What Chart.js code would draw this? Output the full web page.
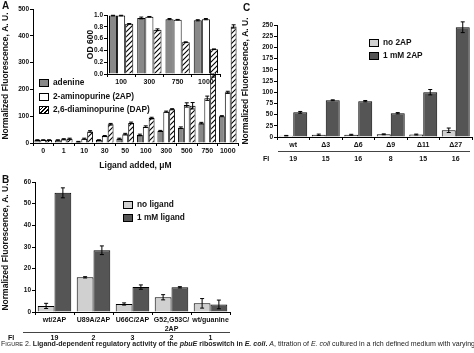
<!DOCTYPE html>
<html>
<head>
<meta charset="utf-8">
<script src="https://cdn.jsdelivr.net/npm/chart.js@4"></script>
<style>
body { margin: 0; background: #fff; width: 474px; height: 353px; overflow: hidden; position: relative;
       font-family: "Liberation Sans", Arial, sans-serif; color: #111; }
canvas { position: absolute; }
.t { position: absolute; font-weight: bold; white-space: nowrap; line-height: 1; }
.sw { position: absolute; width: 8px; height: 6px; border: 1px solid #000; }
.hline { position: absolute; height: 1px; background: #444; }
.cap { position: absolute; left: 1px; top: 340px; font-size: 7.05px; white-space: nowrap; color: #222; }
</style>
</head>
<body>
<canvas id="chartA" width="240" height="172" style="left:0;top:0"></canvas>
<canvas id="chartInset" width="137" height="76" style="top:8px;left:85px"></canvas>
<canvas id="chartB" width="240" height="160" style="left:0;top:175px"></canvas>
<canvas id="chartC" width="234" height="150" style="left:240px;top:10px"></canvas>

<div class="t" style="left:2px;top:1px;font-size:10px">A</div>
<div class="t" style="left:2px;top:175px;font-size:10px">B</div>
<div class="t" style="left:243px;top:3px;font-size:10px">C</div>

<!-- legends -->
<div class="sw" style="left:39px;top:79px;background:#888"></div>
<div class="t" style="left:53px;top:78px;font-size:8.3px">adenine</div>
<div class="sw" style="left:39px;top:93px;background:#fff"></div>
<div class="t" style="left:53px;top:92px;font-size:8.3px">2-aminopurine (2AP)</div>
<div class="sw" style="left:39px;top:106px;background:repeating-linear-gradient(135deg,#fff 0 1.6px,#000 1.6px 2.6px)"></div>
<div class="t" style="left:53px;top:105px;font-size:8.3px">2,6-diaminopurine (DAP)</div>

<div class="sw" style="left:123px;top:201px;background:#d0d0d0"></div>
<div class="t" style="left:137px;top:200px;font-size:8.3px">no ligand</div>
<div class="sw" style="left:123px;top:214px;background:#555"></div>
<div class="t" style="left:137px;top:213px;font-size:8.3px">1 mM ligand</div>

<div class="sw" style="left:369px;top:39px;background:#d0d0d0"></div>
<div class="t" style="left:383px;top:38px;font-size:8.3px">no 2AP</div>
<div class="sw" style="left:369px;top:52px;background:#555"></div>
<div class="t" style="left:383px;top:51px;font-size:8.3px">1 mM 2AP</div>

<div class="hline" style="left:23px;top:332px;width:207px"></div>
<div class="t" style="left:8px;top:334px;font-size:7px">FI</div>
<div class="hline" style="left:278px;top:151px;width:192px"></div>
<div class="t" style="left:263px;top:155px;font-size:7px">FI</div>
<div id="fiHolder"></div>

<div class="cap">F<span style="font-size:5.6px">IGURE</span> 2. <b>Ligand-dependent regulatory activity of the <i>pbuE</i> riboswitch in <i>E. coli</i>.</b> <i>A</i>, titration of <i>E. coli</i> cultured in a rich defined medium with varying</div>

<script>
// Panel A: fluorescence vs ligand concentration
const ligandConc = ['0', '1', '10', '30', '50', '100', '300', '500', '750', '1000'];
const adenine = [11, 10, 5, 11, 16, 30, 45, 57, 74, 100];
const adenineErr = [1, 2, 1, 1, 2, 3, 2, 3, 3, 2];
const aminopurine = [11, 14, 16, 26, 33, 61, 117, 142, 167, 189];
const aminopurineErr = [1, 2, 2, 2, 3, 3, 2, 8, 8, 4];
const diaminopurine = [11, 16, 43, 70, 75, 93, 126, 139, 264, 435];
const diaminopurineErr = [1, 2, 3, 3, 3, 3, 2, 12, 18, 6];

// Inset: OD 600
const insetConc = ['100', '300', '750', '1000'];
const odAdenine = [0.99, 0.95, 0.93, 0.91];
const odAdenineErr = [0.005, 0.015, 0.01, 0.01];
const odAminopurine = [0.99, 0.97, 0.92, 0.93];
const odAminopurineErr = [0.005, 0.005, 0.005, 0.01];
const odDiaminopurine = [0.85, 0.75, 0.54, 0.42];
const odDiaminopurineErr = [0.005, 0.015, 0.005, 0.005];

// Panel B: mutants
const mutants = ['wt/2AP', 'U89A/2AP', 'U66C/2AP', ['G52,G53C/', '2AP'], 'wt/guanine'];
const noLigand = [2.8, 16, 3.7, 6.8, 4];
const noLigandErr = [1.2, 0.3, 0.5, 1.2, 2.2];
const withLigand = [55, 28.5, 11.5, 11.4, 3.5];
const withLigandErr = [2.3, 2, 1, 0.3, 2];
const fiB = ['19', '2', '3', '2', '1'];

// Panel C: deletions
const deletions = ['wt', 'Δ3', 'Δ6', 'Δ9', 'Δ11', 'Δ27'];
const no2AP = [3, 5, 5, 6, 5.5, 15];
const no2APErr = [0.5, 1.5, 1, 1, 1, 5];
const with2AP = [55, 82, 80, 53, 100, 245];
const with2APErr = [2, 1, 1.5, 1.5, 6, 12];
const fiC = ['19', '15', '16', '8', '15', '16'];

// Hatch fill for DAP
function hatch() {
    const c = document.createElement('canvas');
    c.width = 5; c.height = 5;
    const g = c.getContext('2d');
    g.fillStyle = '#fff';
    g.fillRect(0, 0, 5, 5);
    g.strokeStyle = '#000';
    g.lineWidth = 1.1;
    g.beginPath();
    g.moveTo(0, 5); g.lineTo(5, 0);
    g.moveTo(-1, 1); g.lineTo(1, -1);
    g.moveTo(4, 6); g.lineTo(6, 4);
    g.stroke();
    return g.createPattern(c, 'repeat');
}

// Draw error bars from dataset.errors
const errorBars = {
    id: 'errorBars',
    afterDatasetsDraw(chart) {
        const ctx = chart.ctx;
        const y = chart.scales.y;
        chart.data.datasets.forEach((ds, i) => {
            if (!ds.errors) return;
            chart.getDatasetMeta(i).data.forEach((bar, j) => {
                const v = ds.data[j], e = ds.errors[j];
                const top = y.getPixelForValue(v + e);
                const bot = y.getPixelForValue(v - e);
                ctx.save();
                ctx.strokeStyle = '#000';
                ctx.lineWidth = 1;
                ctx.beginPath();
                ctx.moveTo(bar.x, top); ctx.lineTo(bar.x, bot);
                ctx.moveTo(bar.x - 2, top); ctx.lineTo(bar.x + 2, top);
                ctx.moveTo(bar.x - 2, bot); ctx.lineTo(bar.x + 2, bot);
                ctx.stroke();
                ctx.restore();
            });
        });
    }
};

function barSet(label, data, errors, color) {
    return {
        label: label,
        data: data,
        errors: errors,
        backgroundColor: color,
        borderColor: '#000',
        borderWidth: 1,
        categoryPercentage: 0.86,
        barPercentage: 1
    };
}

function options(o) {
    return {
        responsive: false,
        animation: false,
        events: [],
        layout: { padding: o.pad },
        plugins: { legend: { display: false }, tooltip: { enabled: false } },
        scales: {
            x: {
                grid: { drawOnChartArea: false, color: '#000', tickLength: 3 },
                border: { color: '#000', width: 1 },
                ticks: { color: '#111', font: { size: 7, weight: 'bold', family: 'Liberation Sans' }, padding: 1, maxRotation: 0, autoSkip: false },
                title: { display: !!o.xTitle, text: o.xTitle, color: '#111', font: { size: 8.5, weight: 'bold', family: 'Liberation Sans' }, padding: 1 },
                afterFit: s => { s.height = o.xHeight; }
            },
            y: {
                min: o.min, max: o.max,
                grid: { drawOnChartArea: false, color: '#000', tickLength: 3 },
                border: { color: '#000', width: 1 },
                ticks: {
                    stepSize: o.step, color: '#111', padding: 1,
                    font: { size: 6.5, weight: 'bold', family: 'Liberation Sans' },
                    callback: v => o.decimals ? v.toFixed(1) : v
                },
                title: { display: true, text: o.yTitle, color: '#111', font: { size: 8.5, weight: 'bold', family: 'Liberation Sans' }, padding: 1 },
                afterFit: s => { s.width = o.yWidth; }
            }
        }
    };
}

const yTitle = 'Normalized Fluorescence, A. U.';

const chartA = new Chart(document.getElementById('chartA'), {
    type: 'bar',
    data: {
        labels: ligandConc,
        datasets: [
            barSet('adenine', adenine, adenineErr, '#888'),
            barSet('2-aminopurine (2AP)', aminopurine, aminopurineErr, '#fff'),
            barSet('2,6-diaminopurine (DAP)', diaminopurine, diaminopurineErr, hatch())
        ]
    },
    options: options({ min: 0, max: 500, step: 100, yWidth: 33, xHeight: 29, pad: { top: 9, right: 2 }, yTitle: yTitle, xTitle: 'Ligand added, μM' }),
    plugins: [errorBars]
});

const chartInset = new Chart(document.getElementById('chartInset'), {
    type: 'bar',
    data: {
        labels: insetConc,
        datasets: [
            barSet('adenine', odAdenine, odAdenineErr, '#888'),
            barSet('2AP', odAminopurine, odAminopurineErr, '#fff'),
            barSet('DAP', odDiaminopurine, odDiaminopurineErr, hatch())
        ]
    },
    options: options({ min: 0, max: 1.0, step: 0.2, yWidth: 22, xHeight: 10, pad: { top: 7, right: 2 }, yTitle: 'OD 600', decimals: true }),
    plugins: [errorBars]
});

const chartB = new Chart(document.getElementById('chartB'), {
    type: 'bar',
    data: {
        labels: mutants,
        datasets: [
            barSet('no ligand', noLigand, noLigandErr, '#d0d0d0'),
            barSet('1 mM ligand', withLigand, withLigandErr, '#555')
        ]
    },
    options: options({ min: 0, max: 60, step: 10, yWidth: 35, xHeight: 23, pad: { top: 7, right: 10 }, yTitle: yTitle }),
    plugins: [errorBars]
});

const chartC = new Chart(document.getElementById('chartC'), {
    type: 'bar',
    data: {
        labels: deletions,
        datasets: [
            barSet('no 2AP', no2AP, no2APErr, '#d0d0d0'),
            barSet('1 mM 2AP', with2AP, with2APErr, '#555')
        ]
    },
    options: options({ min: 0, max: 250, step: 25, yWidth: 37, xHeight: 23, pad: { top: 15, right: 2 }, yTitle: yTitle }),
    plugins: [errorBars]
});

// FI rows placed under each category
function fiRow(chart, values, left, top) {
    const holder = document.getElementById('fiHolder');
    values.forEach((v, i) => {
        const d = document.createElement('div');
        d.className = 't';
        d.style.fontSize = '7px';
        d.style.top = top + 'px';
        d.style.left = (left + chart.scales.x.getPixelForValue(i) - 10) + 'px';
        d.style.width = '20px';
        d.style.textAlign = 'center';
        d.textContent = v;
        holder.appendChild(d);
    });
}
fiRow(chartB, fiB, 0, 334);
fiRow(chartC, fiC, 240, 155);
</script>
</body>
</html>
